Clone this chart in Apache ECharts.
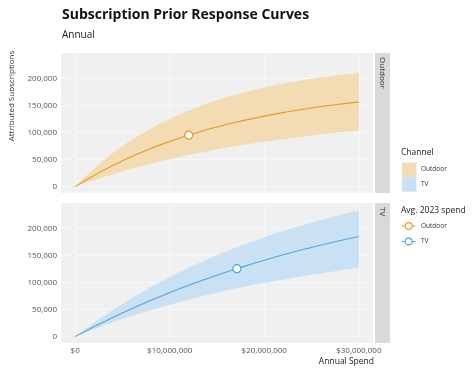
<!DOCTYPE html>
<html><head><meta charset="utf-8">
<script src="https://cdn.jsdelivr.net/npm/echarts@6/dist/echarts.min.js"></script>
<style>html,body{margin:0;padding:0;background:#fff}#c{width:474px;height:372px}</style>
</head><body><div id="c"></div>
<script>
// ---- data ----
const spend = [0, 2.5e6, 5e6, 7.5e6, 10e6, 12.5e6, 15e6, 17.5e6, 20e6, 22.5e6, 25e6, 27.5e6, 30e6];
const outdoorMedian = [0, 25600, 47700, 66900, 83400, 97800, 110200, 120900, 130200, 138200, 145200, 151200, 156500];
const outdoorLower  = [0, 14800, 28100, 40000, 50600, 60100, 68600, 76200, 83000, 89100, 94600, 99500, 103800];
const outdoorUpper  = [0, 40800, 74400, 102100, 125000, 143900, 159500, 172400, 183000, 191700, 198900, 204900, 209800];
const tvMedian = [0, 22700, 43800, 63300, 81300, 98000, 113500, 127800, 141100, 153400, 164700, 175300, 185000];
const tvLower  = [0, 17000, 32400, 46400, 59100, 70600, 81100, 90600, 99300, 107100, 114300, 120800, 126700];
const tvUpper  = [0, 31700, 60400, 86300, 109800, 131000, 150200, 167600, 183400, 197600, 210500, 222100, 232700];
const outdoorAvgSpend = [12.0e6, 95000];
const tvAvgSpend = [17.1e6, 125500];
const channels = ['Outdoor', 'TV'];
const xTicks = [0, 10e6, 20e6, 30e6];
const xMinorTicks = [5e6, 15e6, 25e6];
const yTicks = [0, 50000, 100000, 150000, 200000];
const yMinorTicks = [25000, 75000, 125000, 175000, 225000];

// ---- styling ----
const FONT = 'Open Sans';
const lineColors = ['#e39b21', '#4da6dc'];
const bandColors = ['#f3dbb4', '#cae1f4'];
const panels = [
  {name: channels[0], median: outdoorMedian, lower: outdoorLower, upper: outdoorUpper, avg: outdoorAvgSpend},
  {name: channels[1], median: tvMedian, lower: tvLower, upper: tvUpper, avg: tvAvgSpend}
];
const gridTops = [53, 203];
const PANEL_H = 140, LEFT = 61, W = 312;

const fmtNum = v => Math.round(v).toLocaleString('en-US');
const grids = [], xAxes = [], yAxes = [], series = [], graphics = [];

panels.forEach((p, i) => {
  grids.push({left: LEFT, top: gridTops[i], width: W, height: PANEL_H, show: true,
    backgroundColor: '#f0f0f0', borderWidth: 0, containLabel: false});
  xAxes.push({gridIndex: i, type: 'value', min: -1.5e6, max: 31.5e6,
    axisLine: {show: false}, splitLine: {show: false},
    axisTick: {show: i === 1, customValues: xTicks, length: 3, lineStyle: {color: '#aaa'}},
    axisLabel: {show: i === 1, customValues: xTicks, margin: 4, color: '#555', fontFamily: FONT, fontSize: 8,
      formatter: v => '$' + fmtNum(v)}});
  yAxes.push({gridIndex: i, type: 'value', min: -11750, max: 246750,
    axisLine: {show: false}, splitLine: {show: false},
    axisTick: {show: true, customValues: yTicks, length: 3, lineStyle: {color: '#aaa'}},
    axisLabel: {customValues: yTicks, margin: 4, color: '#555', fontFamily: FONT, fontSize: 8,
      formatter: v => fmtNum(v)}});
  // gridlines (drawn beneath the bands)
  const ml = [];
  const major = {color: '#f9f9f9', width: 0.8, type: 'solid'};
  const minor = {color: '#f5f5f5', width: 0.4, type: 'solid'};
  xTicks.forEach(v => ml.push({xAxis: v, lineStyle: major}));
  yTicks.forEach(v => ml.push({yAxis: v, lineStyle: major}));
  xMinorTicks.forEach(v => ml.push({xAxis: v, lineStyle: minor}));
  yMinorTicks.forEach(v => ml.push({yAxis: v, lineStyle: minor}));
  series.push({type: 'line', xAxisIndex: i, yAxisIndex: i, data: [[0, 0]], symbol: 'none',
    lineStyle: {opacity: 0}, z: 1, silent: true,
    markLine: {z: 1, silent: true, symbol: 'none', label: {show: false}, animation: false, data: ml}});
  // band (value first so that the stack applies to the y value)
  series.push({type: 'line', xAxisIndex: i, yAxisIndex: i, stack: 'band' + i, smooth: true, symbol: 'none',
    encode: {x: 1, y: 0}, data: spend.map((x, j) => [p.lower[j], x]), lineStyle: {opacity: 0}, z: 3, silent: true});
  series.push({type: 'line', xAxisIndex: i, yAxisIndex: i, stack: 'band' + i, smooth: true, symbol: 'none',
    encode: {x: 1, y: 0}, data: spend.map((x, j) => [p.upper[j] - p.lower[j], x]), lineStyle: {opacity: 0},
    areaStyle: {color: bandColors[i], opacity: 1}, z: 3, silent: true});
  // median
  series.push({type: 'line', xAxisIndex: i, yAxisIndex: i, smooth: true, symbol: 'none',
    data: spend.map((x, j) => [x, p.median[j]]), lineStyle: {color: lineColors[i], width: 1.1}, z: 4});
  // avg spend point
  series.push({type: 'scatter', xAxisIndex: i, yAxisIndex: i, data: [p.avg], symbol: 'circle', symbolSize: 8,
    itemStyle: {color: '#fff', borderColor: lineColors[i], borderWidth: 1.2, opacity: 1}, z: 5});
  // facet strip
  graphics.push({type: 'rect', shape: {x: 375, y: gridTops[i], width: 15, height: PANEL_H},
    style: {fill: '#d9d9d9'}});
  graphics.push({type: 'text', x: 382.5, y: gridTops[i] + 4, rotation: -Math.PI / 2,
    style: {text: p.name, fill: '#333', font: '8px "' + FONT + '"', align: 'left', verticalAlign: 'middle'}});
});

// titles
graphics.push({type: 'text', x: 62, y: 15, style: {text: 'Subscription Prior Response Curves', fill: '#111',
  font: 'bold 14px "' + FONT + '"', align: 'left', verticalAlign: 'middle'}});
graphics.push({type: 'text', x: 62, y: 35, style: {text: 'Annual', fill: '#222',
  font: '10px "' + FONT + '"', align: 'left', verticalAlign: 'middle'}});
graphics.push({type: 'text', x: 11.5, y: 96, rotation: Math.PI / 2, style: {text: 'Attributed Subscriptions',
  fill: '#333', font: '8px "' + FONT + '"', align: 'center', verticalAlign: 'middle'}});
graphics.push({type: 'text', x: 374, y: 362, style: {text: 'Annual Spend', fill: '#222',
  font: '8.5px "' + FONT + '"', align: 'right', verticalAlign: 'middle'}});

// legend: Channel
graphics.push({type: 'text', x: 401, y: 153, style: {text: 'Channel', fill: '#222',
  font: '8.5px "' + FONT + '"', align: 'left', verticalAlign: 'middle'}});
channels.forEach((c, i) => {
  graphics.push({type: 'rect', shape: {x: 402, y: 162.5 + i * 14.7, width: 14.5, height: 14.5},
    style: {fill: bandColors[i]}});
  graphics.push({type: 'text', x: 421, y: 169.5 + i * 14.7, style: {text: c, fill: '#333',
    font: '6.5px "' + FONT + '"', align: 'left', verticalAlign: 'middle'}});
});
// legend: Avg. 2023 spend
graphics.push({type: 'text', x: 401, y: 211, style: {text: 'Avg. 2023 spend', fill: '#222',
  font: '8.5px "' + FONT + '"', align: 'left', verticalAlign: 'middle'}});
channels.forEach((c, i) => {
  const cy = 226 + i * 15.5;
  graphics.push({type: 'line', shape: {x1: 402, y1: cy, x2: 415.5, y2: cy},
    style: {stroke: lineColors[i], lineWidth: 1}});
  graphics.push({type: 'circle', shape: {cx: 408.7, cy: cy, r: 3.4},
    style: {fill: '#fff', stroke: lineColors[i], lineWidth: 1.1}});
  graphics.push({type: 'text', x: 421, y: cy, style: {text: c, fill: '#333',
    font: '6.5px "' + FONT + '"', align: 'left', verticalAlign: 'middle'}});
});

const chart = echarts.init(document.getElementById('c'), null, {renderer: 'canvas'});
chart.setOption({
  animation: false,
  backgroundColor: '#fff',
  grid: grids, xAxis: xAxes, yAxis: yAxes, series: series,
  graphic: {elements: graphics}
});
</script>
</body></html>
